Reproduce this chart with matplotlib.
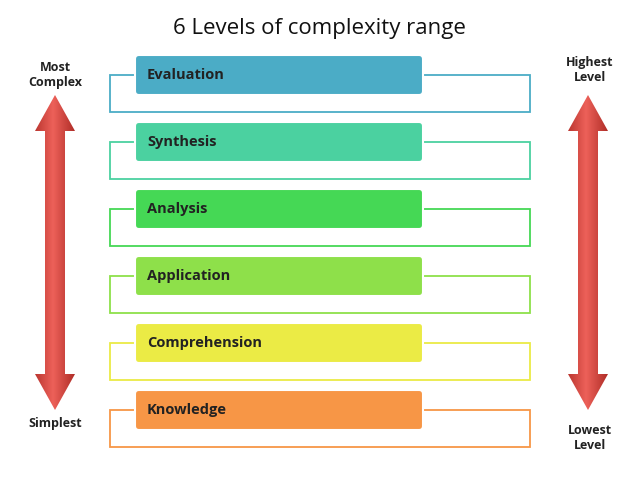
import matplotlib
matplotlib.use("Agg")
import matplotlib.pyplot as plt
import numpy as np
from matplotlib.patches import FancyBboxPatch, Rectangle, Polygon

levels = ["Evaluation", "Synthesis", "Analysis", "Application", "Comprehension", "Knowledge"]
colors = ["#4BACC6", "#4BD1A0", "#45D855", "#8EE04A", "#EBEB45", "#F79646"]
edge = ["#4BACC6", "#4BD1A0", "#45D855", "#8EE04A", "#EBEB45", "#F79646"]

W, H = 638, 479
fig = plt.figure(figsize=(W/100, H/100), dpi=100)
ax = fig.add_axes([0, 0, 1, 1])
ax.set_xlim(0, W); ax.set_ylim(H, 0); ax.axis("off")

ax.text(W/2, 28, "6 Levels of complexity range", ha="center", va="center", fontsize=16,
        family="Open Sans", color="#111")

for i, (lab, c) in enumerate(zip(levels, colors)):
    top = 55 + i*67
    ax.add_patch(Rectangle((110, top+20), 420, 37, fill=False, ec=c, lw=1.3, zorder=1))
    ax.add_patch(FancyBboxPatch((135, top), 288, 40, boxstyle="round,pad=0,rounding_size=4",
                                fc=c, ec="white", lw=1.5, zorder=2))
    ax.text(147, top+20, lab, ha="left", va="center", fontsize=10.5, weight="bold",
            family="Open Sans", color="#222", zorder=3)

def arrow(xc, y0, y1):
    hw, sw, hl = 20, 10, 36
    pts = [(xc, y0), (xc+hw, y0+hl), (xc+sw, y0+hl), (xc+sw, y1-hl), (xc+hw, y1-hl),
           (xc, y1), (xc-hw, y1-hl), (xc-sw, y1-hl), (xc-sw, y0+hl), (xc-hw, y0+hl)]
    poly = Polygon(pts, closed=True, fc="none", ec="none")
    ax.add_patch(poly)
    g = np.linspace(0, 1, 64)
    g = 1 - np.abs(g - 0.45) * 1.4
    img = np.zeros((2, 64, 3))
    dark = np.array([0.62, 0.12, 0.10]); light = np.array([0.93, 0.38, 0.35])
    for k in range(64):
        img[:, k] = dark + (light - dark) * np.clip(g[k], 0, 1)
    im = ax.imshow(img, extent=(xc-hw, xc+hw, y1, y0), aspect="auto", zorder=2)
    im.set_clip_path(poly)

arrow(55, 95, 410)
arrow(588, 95, 410)

tk = dict(ha="center", va="center", fontsize=9, weight="bold", family="Open Sans", color="#222")
ax.text(55, 75, "Most\nComplex", **tk)
ax.text(55, 423, "Simplest", **tk)
ax.text(590, 70, "Highest\nLevel", **tk)
ax.text(590, 438, "Lowest\nLevel", **tk)

fig.savefig("out.png", dpi=100)
